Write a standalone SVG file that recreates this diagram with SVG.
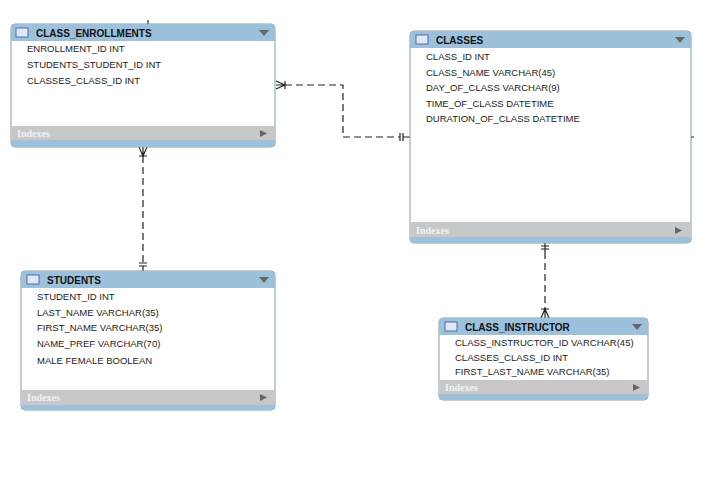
<svg xmlns="http://www.w3.org/2000/svg" width="701" height="498" viewBox="0 0 701 498">
<style>
.box{fill:#fff;stroke:#8a9aa8;stroke-width:1}
.hd{fill:#9dc1db}
.ix{fill:#c8c8c8}
.t{font-family:"Liberation Sans",Arial,sans-serif;font-size:9.5px;fill:#222}
.h{font-family:"Liberation Sans",Arial,sans-serif;font-size:10px;font-weight:bold;fill:#111}
.i{font-family:"Liberation Serif",serif;font-size:10px;font-weight:bold;fill:#f2f2f2}
.ln{fill:none;stroke:#222;stroke-width:1.2;stroke-dasharray:7,4}
.s{fill:none;stroke:#222;stroke-width:1.2}
.ic{fill:#dfe8f5;stroke:#4a6fb0;stroke-width:1}
.tri{fill:#666}
</style>
<g id="connectors">
<path class="ln" d="M285,85 H343 V137 H400"/>
<path class="s" d="M276,81 L285,85 L276,89 M276,85 H285 M285,81 V89 M400,133 V141 M403,133 V141 M403,137 H410"/>
<path class="ln" d="M143,156 V263"/>
<path class="s" d="M139,147 L143,156 L147,147 M143,147 V156 M139,156 H147 M139,263 H147 M139,266 H147 M143,266 V271"/>
<path class="ln" d="M545,252 V309"/>
<path class="s" d="M545,243 V252 M541,246 H549 M541,249 H549 M541,318 L545,309 L549,318 M545,309 V318 M541,309 H549"/>
<path class="s" d="M148,20 V24 M691,137 H694"/>
</g>
<g id="class_enrollments">
<rect class="box" x="11" y="24" width="264" height="123" rx="4"/>
<path class="hd" d="M15,24 H271 A4,4 0 0 1 275,28 V41 H11 V28 A4,4 0 0 1 15,24 Z"/>
<rect class="ix" x="11.5" y="126" width="263" height="14"/>
<path class="hd" d="M11,140 H275 V143 A4,4 0 0 1 271,147 H15 A4,4 0 0 1 11,143 Z"/>
<rect class="ic" x="16" y="28" width="12" height="9"/>
<text class="h" x="36" y="37">CLASS_ENROLLMENTS</text>
<path class="tri" d="M259,30 H269 L264,36 Z"/>
<text class="t" x="27" y="52">ENROLLMENT_ID INT</text>
<text class="t" x="27" y="68">STUDENTS_STUDENT_ID INT</text>
<text class="t" x="27" y="84">CLASSES_CLASS_ID INT</text>
<text class="i" x="17" y="137">Indexes</text>
<path class="tri" d="M260,130 L267,133.5 L260,137 Z"/>
</g>
<g id="classes">
<rect class="box" x="410" y="31" width="281" height="212" rx="4"/>
<path class="hd" d="M414,31 H687 A4,4 0 0 1 691,35 V48 H410 V35 A4,4 0 0 1 414,31 Z"/>
<rect class="ix" x="410.5" y="222" width="280" height="15"/>
<path class="hd" d="M410,237 H691 V239 A4,4 0 0 1 687,243 H414 A4,4 0 0 1 410,239 Z"/>
<rect class="ic" x="416" y="35" width="12" height="9"/>
<text class="h" x="436" y="44">CLASSES</text>
<path class="tri" d="M675,37 H685 L680,43 Z"/>
<text class="t" x="426" y="60">CLASS_ID INT</text>
<text class="t" x="426" y="76">CLASS_NAME VARCHAR(45)</text>
<text class="t" x="426" y="91">DAY_OF_CLASS VARCHAR(9)</text>
<text class="t" x="426" y="107">TIME_OF_CLASS DATETIME</text>
<text class="t" x="426" y="122">DURATION_OF_CLASS DATETIME</text>
<text class="i" x="416" y="234">Indexes</text>
<path class="tri" d="M675,227 L682,230.5 L675,234 Z"/>
</g>
<g id="students">
<rect class="box" x="21" y="271" width="254" height="139" rx="4"/>
<path class="hd" d="M25,271 H271 A4,4 0 0 1 275,275 V288 H21 V275 A4,4 0 0 1 25,271 Z"/>
<rect class="ix" x="21.5" y="390" width="253" height="15"/>
<path class="hd" d="M21,405 H275 V406 A4,4 0 0 1 271,410 H25 A4,4 0 0 1 21,406 Z"/>
<rect class="ic" x="27" y="275" width="12" height="9"/>
<text class="h" x="47" y="284">STUDENTS</text>
<path class="tri" d="M259,277 H269 L264,283 Z"/>
<text class="t" x="37" y="300">STUDENT_ID INT</text>
<text class="t" x="37" y="316">LAST_NAME VARCHAR(35)</text>
<text class="t" x="37" y="331">FIRST_NAME VARCHAR(35)</text>
<text class="t" x="37" y="347">NAME_PREF VARCHAR(70)</text>
<text class="t" x="37" y="364">MALE FEMALE BOOLEAN</text>
<text class="i" x="27" y="401">Indexes</text>
<path class="tri" d="M260,394 L267,397.5 L260,401 Z"/>
</g>
<g id="class_instructor">
<rect class="box" x="439" y="318" width="209" height="82" rx="4"/>
<path class="hd" d="M443,318 H644 A4,4 0 0 1 648,322 V335 H439 V322 A4,4 0 0 1 443,318 Z"/>
<rect class="ix" x="439.5" y="380" width="208" height="14"/>
<path class="hd" d="M439,394 H648 V396 A4,4 0 0 1 644,400 H443 A4,4 0 0 1 439,396 Z"/>
<rect class="ic" x="445" y="322" width="12" height="9"/>
<text class="h" x="465" y="331">CLASS_INSTRUCTOR</text>
<path class="tri" d="M632,324 H642 L637,330 Z"/>
<text class="t" x="455" y="346">CLASS_INSTRUCTOR_ID VARCHAR(45)</text>
<text class="t" x="455" y="361">CLASSES_CLASS_ID INT</text>
<text class="t" x="455" y="375">FIRST_LAST_NAME VARCHAR(35)</text>
<text class="i" x="445" y="391">Indexes</text>
<path class="tri" d="M633,384 L640,387.5 L633,391 Z"/>
</g>
</svg>
